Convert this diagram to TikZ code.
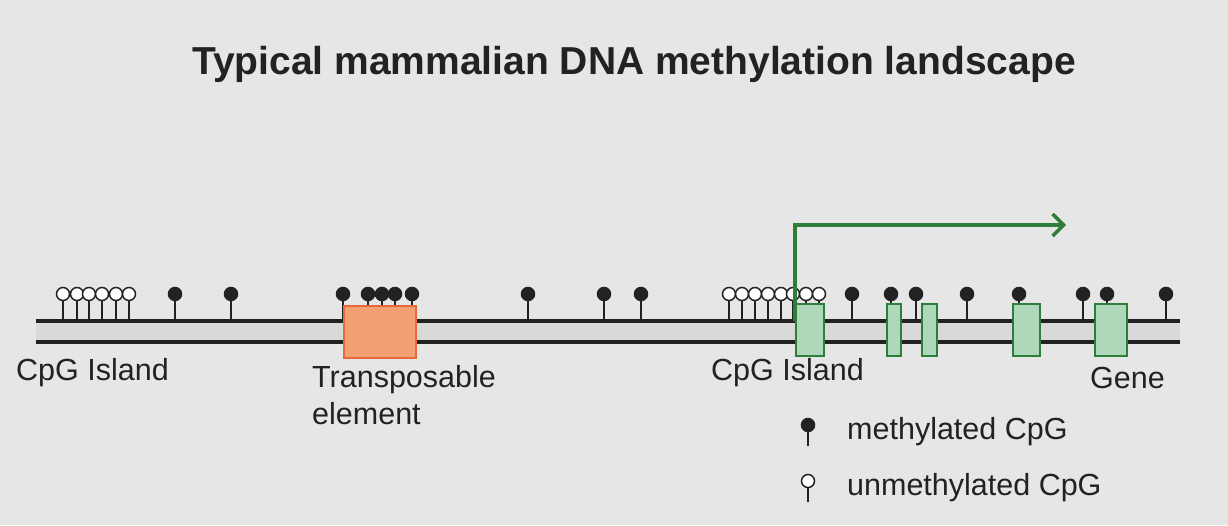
\documentclass[tikz,border=0pt]{standalone}
\usepackage{fontspec}
\setmainfont{Liberation Sans}
\usetikzlibrary{arrows.meta}
\definecolor{bg}{HTML}{E6E6E6}
\definecolor{dk}{HTML}{222222}
\definecolor{gfill}{HTML}{ADD9BA}
\definecolor{gline}{HTML}{2E7D3A}
\definecolor{ofill}{HTML}{F0A072}
\definecolor{oline}{HTML}{E8683A}
\begin{document}
\begin{tikzpicture}[x=1pt,y=-1pt,
  meth/.style={fill=dk,draw=dk,line width=1.5pt},
  unmeth/.style={fill=white,draw=dk,line width=1.5pt},
  stem/.style={draw=dk,line width=1.8pt},
  exon/.style={fill=gfill,draw=gline,line width=2pt},
  lbl/.style={font=\fontsize{30.5}{37}\selectfont,text=dk,inner sep=0pt}]
\fill[bg] (0,0) rectangle (1228,525);
\useasboundingbox (0,0) rectangle (1228,525);
\node[font=\bfseries\fontsize{39}{46}\selectfont,text=dk] (title) at (634,64) {Typical mammalian DNA methylation landscape};
% strand
\fill[black!15] (36,321) rectangle (1180,342);
\draw[dk,line width=4.5pt] (36,321) -- (1180,321);
\draw[dk,line width=4.5pt] (36,342) -- (1180,342);
% lollipops
\foreach \x in {63,77,89,102,116,129,729,742,755,768,781,793,806,819,175,231,343,368,382,395,412,528,604,641,852,891,916,967,1019,1083,1107,1166}{
  \draw[stem] (\x,294) -- (\x,321);}
\foreach \x in {63,77,89,102,116,129,729,742,755,768,781,793,806,819}{
  \draw[unmeth] (\x,294) circle (6.5);}
\foreach \x in {175,231,343,368,382,395,412,528,604,641,852,891,916,967,1019,1083,1107,1166}{
  \draw[meth] (\x,294) circle (6.5);}
% TE
\draw[fill=ofill,draw=oline,line width=2pt] (344,306) rectangle (416,358);
% arrow
\coordinate (tss) at (795,321);
\coordinate (arrEnd) at (1066,225);
\draw[gline,line width=3.5pt,-{Straight Barb[length=11pt,width=22pt,line width=3.5pt]}] (tss) |- (arrEnd);
% exons
\draw[exon] (796,304) rectangle (824,356);
\draw[exon] (887,304) rectangle (901,356);
\draw[exon] (922,304) rectangle (937,356);
\draw[exon] (1013,304) rectangle (1040,356);
\draw[exon] (1095,304) rectangle (1127,356);
% labels
\node[lbl,anchor=west] (l1) at (16,373) {CpG Island};
\node[lbl,anchor=north west,align=left] (l2) at (312,365) {Transposable\\element};
\node[lbl,anchor=west] (l3) at (711,373) {CpG Island};
\node[lbl,anchor=west] (l4) at (1090,378) {Gene};
% legend
\draw[stem] (808,425) -- (808,446);
\draw[meth] (808,425) circle (6.5);
\node[lbl,anchor=west] (m) at (847,432) {methylated CpG};
\draw[stem] (808,481) -- (808,502);
\draw[unmeth] (808,481) circle (6.5);
\node[lbl,anchor=west] (u) at (847,488) {unmethylated CpG};
\end{tikzpicture}
\end{document}
